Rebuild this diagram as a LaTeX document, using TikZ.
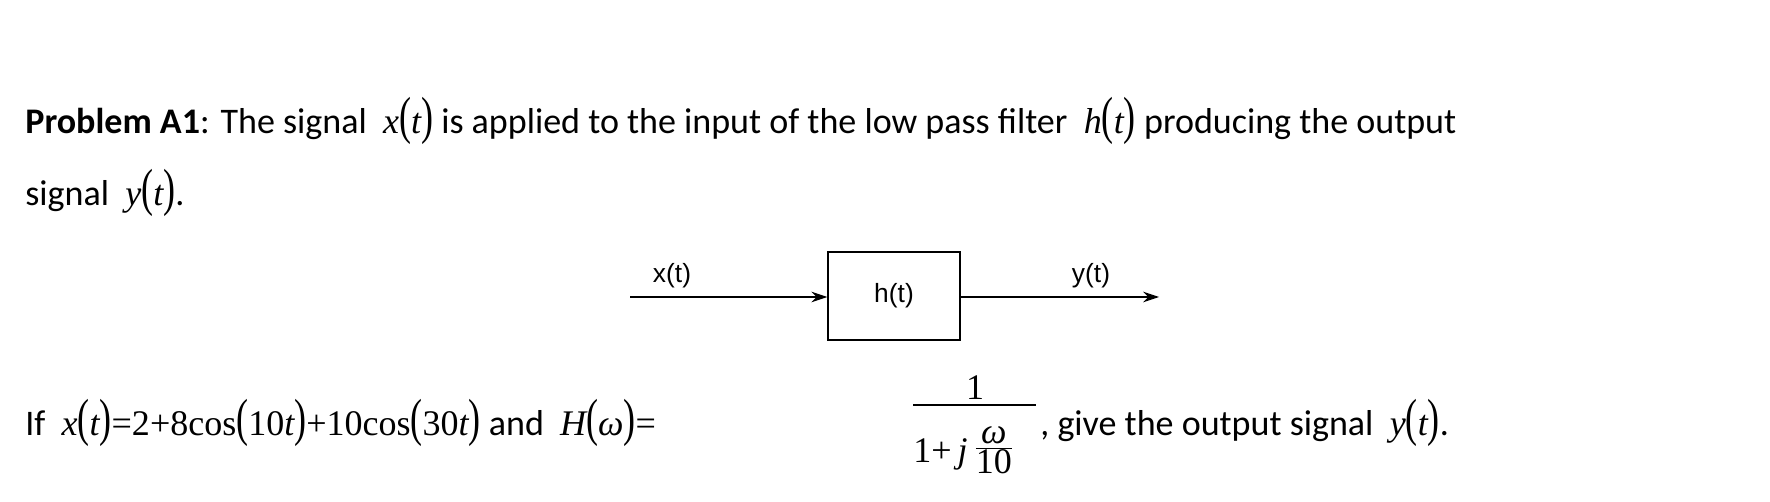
\documentclass[tikz,border=0pt]{standalone}
\usepackage{fontspec}
\setmainfont{Carlito}
\newfontfamily\arialf{Liberation Sans}
\newfontfamily\timesf{Liberation Serif}
\usetikzlibrary{arrows.meta}
\newcommand{\mv}[1]{{\timesf\itshape #1}}
\newcommand{\mr}[1]{{\timesf #1}}
\newcommand{\lp}{\scalebox{1}[1.45]{\timesf(}}
\newcommand{\rp}{\scalebox{1}[1.45]{\timesf)}}
\begin{document}
\begin{tikzpicture}[x=0.02cm,y=-0.02cm,
  txt/.style={anchor=base west,inner sep=0,font=\fontsize{20.5}{24}\selectfont},
  lab/.style={inner sep=0,font=\arialf\fontsize{15}{18}\selectfont},
  sig/.style={line width=0.9pt,-{Stealth[length=9pt,width=6pt]}}]
\useasboundingbox (0,0) rectangle (1770,502);
\node[txt] (l1) at (25,134) {\textbf{Problem A1}: The signal \ \mv{x}\lp\mv{t}\rp\ is applied to the input of the low pass filter \ \mv{h}\lp\mv{t}\rp\ producing the output};
\node[txt] (l2) at (25,206) {signal \ \mv{y}\lp\mv{t}\rp.};
\node[draw,line width=0.8pt,minimum width=132*0.02cm,minimum height=88*0.02cm,lab] (h) at (894,296) {h(t)};
\coordinate (in) at (630,297);
\coordinate (out) at (1159,297);
\draw[sig] (in) -- (h.west |- in);
\draw[sig] (h.east |- out) -- (out);
\node[lab] (xl) at (672,276) {x(t)};
\node[lab] (yl) at (1091,276) {y(t)};
\node[txt] (l3) at (25,436) {If \ \mv{x}\lp\mv{t}\rp\mr{=2+8cos}\lp\mr{10}\mv{t}\rp\mr{+10cos}\lp\mr{30}\mv{t}\rp\ and \ \mv{H}\lp\mv{ω}\rp\mr{=}};
\node[inner sep=0,anchor=base] (num) at (975,400) {\fontsize{20.5}{24}\selectfont\mr{1}};
\draw[line width=0.7pt] (913,405) coordinate (fa) -- (1036,405) coordinate (fb);
\node[inner sep=0,anchor=base west] (den) at (913,463) {\fontsize{20.5}{24}\selectfont\mr{1+}\,\mv{j}\,\raisebox{3pt}{$\frac{\mbox{\mv{ω}}}{\mbox{\mr{10}}}$}};
\node[txt] (l3b) at (1040,436) {, give the output signal \ \mv{y}\lp\mv{t}\rp.};
\end{tikzpicture}
\end{document}
